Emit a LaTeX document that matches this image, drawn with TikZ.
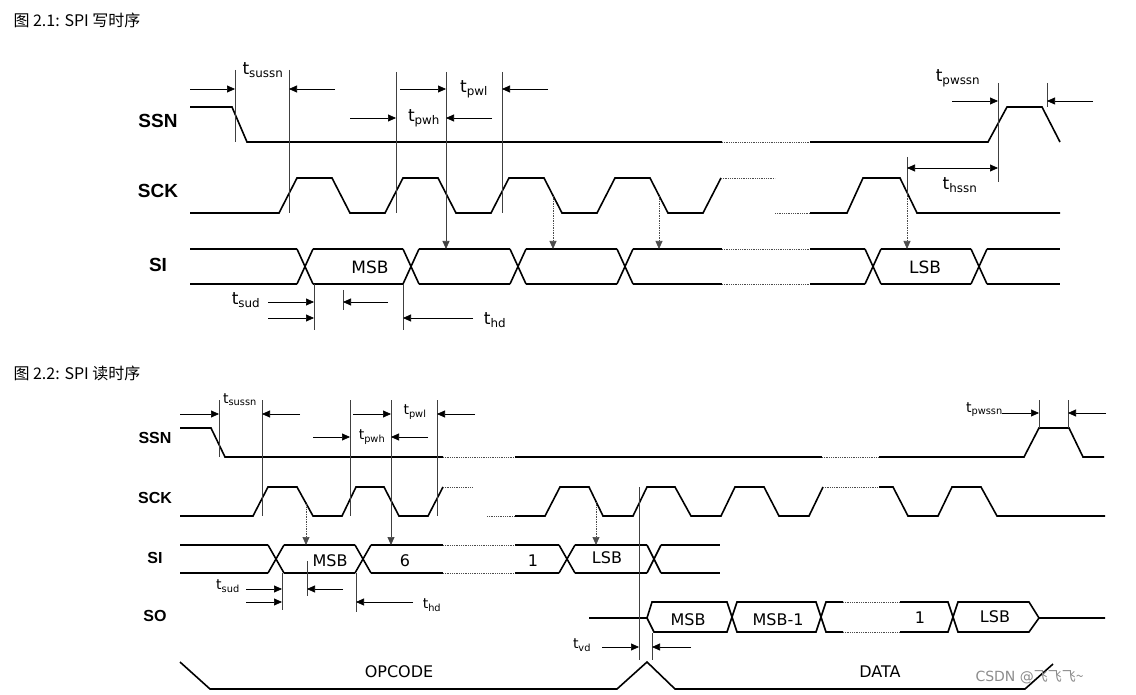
\documentclass[tikz,border=0pt]{standalone}
\usepackage{fontspec}
\setmainfont{DejaVu Sans}
\newfontfamily\lab{Liberation Sans}
\newfontfamily\cjk{Noto Sans CJK SC}
\usetikzlibrary{arrows.meta}
\newcommand\xcr[4]{\draw[sig] (#1-#4,#2)--(#1+#4,#3) (#1-#4,#3)--(#1+#4,#2);}
\begin{document}
\begin{tikzpicture}[x=1pt,y=-1pt,
  sig/.style={line width=1.6pt},
  dl/.style={densely dotted,line width=0.8pt,black!70},
  guide/.style={line width=0.6pt,black!75},
  arr/.style={line width=0.7pt,-{Triangle[length=8pt,width=7pt]}},
  dbl/.style={line width=0.7pt,{Triangle[length=8pt,width=7pt]}-{Triangle[length=8pt,width=7pt]}},
  sl/.style={font=\lab\bfseries\fontsize{19}{19}\selectfont},
  sl2/.style={font=\lab\bfseries\fontsize{16}{16}\selectfont},
  tl/.style={font=\fontsize{17}{17}\selectfont,inner sep=1pt},
  vl/.style={font=\fontsize{16}{16}\selectfont,inner sep=1pt},
  tl2/.style={font=\fontsize{14}{14}\selectfont,inner sep=1pt},
  ttl/.style={font=\cjk\fontsize{16}{16}\selectfont,anchor=west}]
\useasboundingbox[fill=white] (0,0) rectangle (1136,695);
% titles
\node[ttl] (t1) at (10,20) {图 2.1: SPI 写时序};
\node[ttl] (t2) at (10,373) {图 2.2: SPI 读时序};
% ================= TOP =================
\node[sl] (ssn1) at (158,121) {SSN};
\node[sl] (sck1) at (158,191) {SCK};
\node[sl] (si1) at (158,265) {SI};
% SSN
\draw[sig] (190,107)--(232,107)--(247,142)--(722,142);
\draw[dl] (722,142)--(810,142);
\draw[sig] (810,142)--(988,142)--(1007,107)--(1042,107)--(1060,142);
% SCK
\draw[sig] (190,213)--(279,213)--(297,178)--(332,178)--(350,213)--(385,213)--(403,178)--(438,178)--(456,213)--(491,213)--(509,178)--(544,178)--(562,213)--(597,213)--(615,178)--(650,178)--(668,213)--(703,213)--(721,178);
\draw[dl] (721,178)--(775,178) (775,213)--(810,213);
\draw[sig] (810,213)--(847,213)--(863,178)--(900,178)--(917,213)--(1060,213);
% SI
\foreach \y in {249,284}{
 \draw[sig] (190,\y)--(297,\y) (313,\y)--(403,\y) (419,\y)--(510,\y) (526,\y)--(617,\y) (633,\y)--(722,\y)
   (810,\y)--(865,\y) (881,\y)--(971,\y) (987,\y)--(1060,\y);
 \draw[dl] (722,\y)--(810,\y);}
\xcr{305}{249}{284}{8}\xcr{411}{249}{284}{8}\xcr{518}{249}{284}{8}\xcr{625}{249}{284}{8}\xcr{873}{249}{284}{8}\xcr{979}{249}{284}{8}
\node[tl] (msb1) at (370,267) {MSB};
\node[tl] (lsb1) at (925,267) {LSB};
% SI arrows
\draw[guide,arr] (446,72)--(446,249);
\draw[dl,arr] (553,196)--(553,249);
\draw[dl,arr] (659,196)--(659,249);
\draw[guide] (907,157)--(907,196);
\draw[dl,arr] (907,196)--(907,249);
% tsussn
\draw[guide] (235,70)--(235,142) (289,70)--(289,213);
\draw[arr] (190,89)--(235,89);
\draw[arr] (335,89)--(289,89);
\node[tl] (a1) at (263,70) {t\textsubscript{sussn}};
% pwl / pwh
\draw[guide] (396,72)--(396,213) (502,72)--(502,213);
\draw[arr] (400,89)--(446,89);
\draw[arr] (548,89)--(502,89);
\node[tl] (a2) at (474,89) {t\textsubscript{pwl}};
\draw[arr] (350,118)--(396,118);
\draw[arr] (492,118)--(446,118);
\node[tl] (a3) at (424,118) {t\textsubscript{pwh}};
% tsud
\draw[guide] (314,284)--(314,330) (343,290)--(343,310);
\draw[arr] (268,302)--(314,302);
\draw[arr] (268,318)--(314,318);
\draw[arr] (388,302)--(343,302);
\node[tl] (a4) at (246,300) {t\textsubscript{sud}};
% thd
\draw[guide] (403,284)--(403,330);
\draw[arr] (473,318)--(403,318);
\node[tl] (a5) at (495,320) {t\textsubscript{hd}};
% pwssn
\draw[guide] (998,83)--(998,182) (1047,83)--(1047,107);
\draw[arr] (952,101)--(998,101);
\draw[arr] (1093,101)--(1047,101);
\node[tl] (a6) at (958,78) {t\textsubscript{pwssn}};
% hssn
\draw[dbl] (907,168)--(998,168);
\node[tl] (a7) at (960,185) {t\textsubscript{hssn}};
% ================= BOTTOM =================
\node[sl2] (ssn2) at (155,438) {SSN};
\node[sl2] (sck2) at (155,498) {SCK};
\node[sl2] (si2) at (155,558) {SI};
\node[sl2] (so2) at (155,616) {SO};
% SSN
\draw[sig] (180,428)--(211,428)--(225,457)--(443,457);
\draw[dl] (443,457)--(515,457);
\draw[sig] (515,457)--(822,457);
\draw[dl] (822,457)--(879,457);
\draw[sig] (879,457)--(1024,457)--(1039,428)--(1069,428)--(1083,457)--(1104,457);
% SCK
\draw[sig] (180,516)--(253,516)--(268,487)--(297,487)--(313,516)--(342,516)--(356,487)--(384,487)--(399,516)--(428,516)--(443,487);
\draw[dl] (443,487)--(473,487) (487,516)--(515,516);
\draw[sig] (515,516)--(545,516)--(560,487)--(589,487)--(603,516)--(633,516)--(647,487)--(675,487)--(691,516)--(721,516)--(735,487)--(764,487)--(779,516)--(809,516)--(823,487);
\draw[dl] (823,487)--(879,487);
\draw[sig] (879,487)--(893,487)--(908,516)--(938,516)--(952,487)--(981,487)--(997,516)--(1105,516);
% SI
\foreach \y in {545,573}{
 \draw[sig] (180,\y)--(268,\y) (284,\y)--(355,\y) (371,\y)--(443,\y) (515,\y)--(559,\y) (575,\y)--(647,\y) (661,\y)--(720,\y);
 \draw[dl] (443,\y)--(515,\y);}
\xcr{276}{545}{573}{8}\xcr{363}{545}{573}{8}\xcr{567}{545}{573}{8}\xcr{654}{545}{573}{7}
\node[vl] (msb2) at (330,561) {MSB};
\node[vl] (six) at (405,561) {6};
\node[vl] (one2) at (533,561) {1};
\node[vl] (lsb2) at (607,558) {LSB};
% SI arrows
\draw[dl,arr] (306,502)--(306,545);
\draw[dl,arr] (596,502)--(596,545);
% SO
\draw[sig] (589,618)--(647,618)--(652,602)--(727,602)--(737,632)--(816,632)--(826,602)--(843,602)
  (900,602)--(948,602)--(958,632)--(1029,632)--(1039,618)--(1105,618)
  (647,618)--(654,632)--(727,632)--(737,602)--(816,602)--(826,632)--(843,632)
  (900,632)--(948,632)--(958,602)--(1029,602)--(1039,618);
\draw[dl] (843,602)--(900,602) (843,632)--(900,632);
\node[vl] (so_a) at (688,620) {MSB};
\node[vl] (so_b) at (778,620) {MSB-1};
\node[vl] (so_c) at (920,618) {1};
\node[vl] (so_d) at (995,617) {LSB};
% OPCODE / DATA
\draw[sig] (180,662)--(210,689)--(617,689)--(647,662)--(675,689)--(1025,689)--(1053,664);
\node[vl] (op) at (399,672) {OPCODE};
\node[vl] (data) at (880,672) {DATA};
\node[font=\fontsize{14}{14}\selectfont,text=black!45,anchor=west] (wm) at (972,677) {CSDN @\cjk 飞飞飞\textasciitilde};
% tsussn
\draw[guide] (219,400)--(219,457) (262,400)--(262,516);
\draw[arr] (180,414)--(219,414);
\draw[arr] (300,414)--(262,414);
\node[tl2] (b1) at (240,400) {t\textsubscript{sussn}};
% pwl / pwh
\draw[guide] (350,400)--(350,516) (437,400)--(437,516);
\draw[guide,arr] (391,400)--(391,545);
\draw[arr] (353,414)--(391,414);
\draw[arr] (475,414)--(437,414);
\node[tl2] (b2) at (415,412) {t\textsubscript{pwl}};
\draw[arr] (313,437)--(350,437);
\draw[arr] (428,437)--(391,437);
\node[tl2] (b3) at (372,437) {t\textsubscript{pwh}};
% tsud
\draw[guide] (282,573)--(282,610) (307,561)--(307,596);
\draw[arr] (246,589)--(282,589);
\draw[arr] (246,602)--(282,602);
\draw[arr] (343,589)--(307,589);
\node[tl2] (b4) at (228,586) {t\textsubscript{sud}};
% thd
\draw[guide] (356,573)--(356,612);
\draw[arr] (413,602)--(356,602);
\node[tl2] (b5) at (432,605) {t\textsubscript{hd}};
% tvd
\draw[guide] (639,487)--(639,660) (652,633)--(652,660);
\draw[arr] (602,647)--(639,647);
\draw[arr] (691,647)--(652,647);
\node[tl2] (b6) at (582,645) {t\textsubscript{vd}};
% pwssn
\draw[guide] (1039,400)--(1039,428) (1068,400)--(1068,428);
\draw[arr] (1002,413)--(1039,413);
\draw[arr] (1106,413)--(1068,413);
\node[tl2,anchor=east] (b7) at (1004,410) {t\textsubscript{pwssn}};
\end{tikzpicture}
\end{document}
